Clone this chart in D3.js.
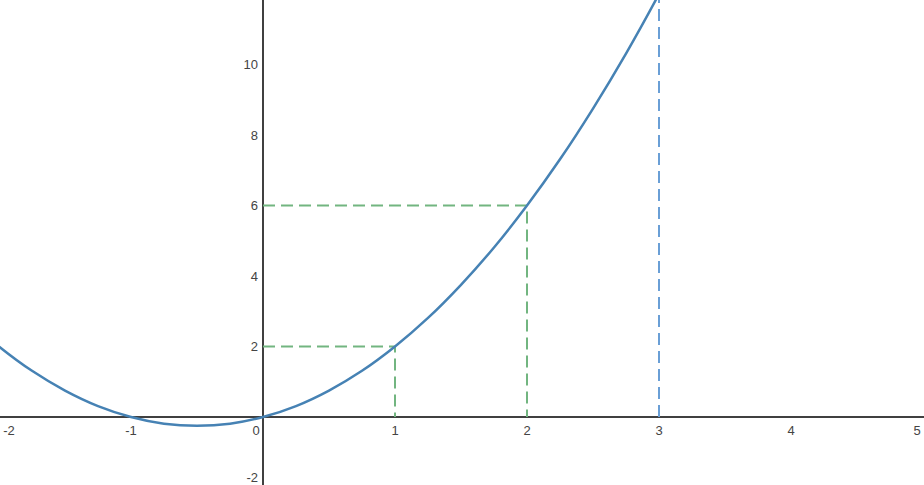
<!DOCTYPE html>
<html>
<head>
<meta charset="utf-8">
<script src="https://cdn.jsdelivr.net/npm/d3@7.9.0/dist/d3.min.js"></script>
<style>
  html, body { margin: 0; padding: 0; background: #fff; }
  svg { display: block; }
  .tick-label { font-family: "Liberation Sans", Arial, sans-serif; font-size: 13px; fill: #444; }
</style>
</head>
<body>
<svg id="chart" width="924" height="485"></svg>
<script>
// curve samples
const curveX = [-2.25, -2, -1.75, -1.5, -1.25, -1, -0.75, -0.5, -0.25, 0, 0.25, 0.5, 0.75, 1, 1.25, 1.5, 1.75, 2, 2.25, 2.5, 2.75, 3, 3.25];
const curveY = [2.81, 2, 1.31, 0.75, 0.31, 0, -0.19, -0.25, -0.19, 0, 0.31, 0.75, 1.31, 2, 2.81, 3.75, 4.81, 6, 7.31, 8.75, 10.31, 12, 13.81];

// green guide points (x, y)
const guideX = [1, 2];
const guideY = [2, 6];

// blue vertical guide
const markX = 3;
const markY = 12;

const xTicks = [-2, -1, 0, 1, 2, 3, 4, 5];
const yTicks = [-2, 2, 4, 6, 8, 10];

const width = 924, height = 485;
const svg = d3.select('#chart');

const x = d3.scaleLinear().domain([-2, 5]).range([-1, 923]);
const y = d3.scaleLinear().domain([0, 10]).range([417, 64.5]);

// axes
svg.append('line')
  .attr('x1', 0).attr('x2', width)
  .attr('y1', y(0)).attr('y2', y(0))
  .attr('stroke', '#000').attr('stroke-width', 1.5);
svg.append('line')
  .attr('x1', x(0)).attr('x2', x(0))
  .attr('y1', 0).attr('y2', height)
  .attr('stroke', '#000').attr('stroke-width', 1.5);

// x tick labels
svg.selectAll('.xl').data(xTicks).join('text')
  .attr('class', 'tick-label')
  .attr('x', d => {
    if (d === 0) return x(0) - 7;
    return Math.min(Math.max(x(d), 9), 917);
  })
  .attr('y', y(0) + 18)
  .attr('text-anchor', 'middle')
  .text(d => d);

// y tick labels (the bottom one is pulled in near the edge)
svg.selectAll('.yl').data(yTicks).join('text')
  .attr('class', 'tick-label')
  .attr('x', x(0) - 5)
  .attr('y', d => Math.min(y(d) + 4.5, height - 3))
  .attr('text-anchor', 'end')
  .text(d => d);

// green dashed guides
guideX.forEach((gx, i) => {
  const gy = guideY[i];
  svg.append('path')
    .attr('d', `M${x(0)},${y(gy)}H${x(gx)}V${y(0)}`)
    .attr('fill', 'none')
    .attr('stroke', '#72b580')
    .attr('stroke-width', 2)
    .attr('stroke-dasharray', '12,6');
});

// blue dashed vertical
svg.append('line')
  .attr('x1', x(markX)).attr('x2', x(markX))
  .attr('y1', y(0)).attr('y2', y(markY))
  .attr('stroke', '#6a9fd6')
  .attr('stroke-width', 2)
  .attr('stroke-dasharray', '12,6');

// the curve
const pts = curveX.map((d, i) => [d, curveY[i]]);
const line = d3.line()
  .x(d => x(d[0]))
  .y(d => y(d[1]))
  .curve(d3.curveCatmullRom);

svg.append('path')
  .datum(pts)
  .attr('d', line)
  .attr('fill', 'none')
  .attr('stroke', '#4682b4')
  .attr('stroke-width', 2.5);
</script>
</body>
</html>
